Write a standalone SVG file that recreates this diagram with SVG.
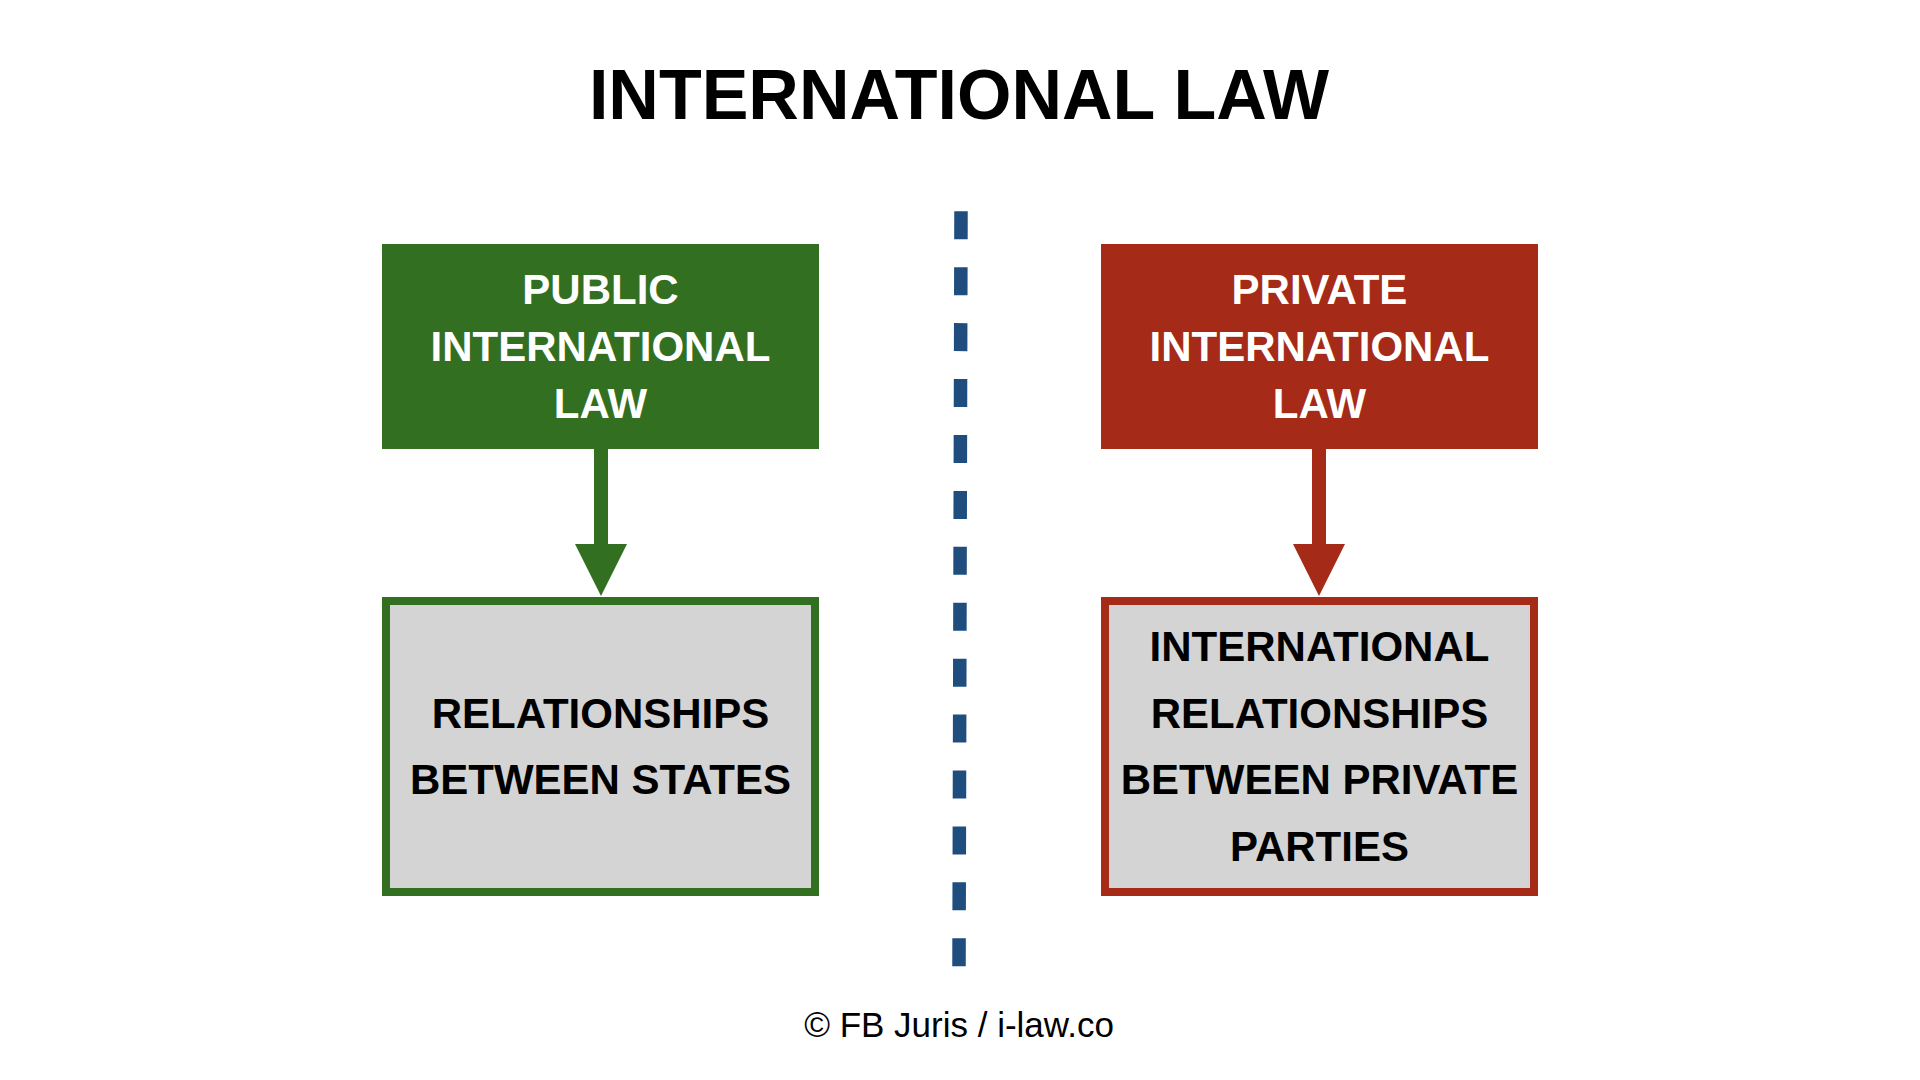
<svg xmlns="http://www.w3.org/2000/svg" width="1920" height="1080" viewBox="0 0 1920 1080">
<style>
text{font-family:"Liberation Sans",Arial,sans-serif;text-anchor:middle}
.title{font-size:70px;font-weight:bold;fill:#000}
.head{font-size:42px;font-weight:bold;fill:#fff}
.body{font-size:42px;font-weight:bold;fill:#000}
.foot{font-size:35px;fill:#000}
.green{fill:#326F20}
.red{fill:#A52A17}
.gbox{fill:#D4D4D4;stroke:#326F20;stroke-width:8}
.rbox{fill:#D4D4D4;stroke:#A52A17;stroke-width:8}
</style>
<rect width="1920" height="1080" fill="#fff"/>
<text class="title" x="959" y="119">INTERNATIONAL LAW</text>
<g id="divider">
<line x1="961" y1="211.3" x2="959" y2="966.3" stroke="#1F4E7E" stroke-width="13.5" stroke-dasharray="28 27.92"/>
</g>
<g id="public-law">
<rect class="green" x="382" y="244" width="437" height="205"/>
<text class="head" x="600.5" y="304">PUBLIC</text>
<text class="head" x="600.5" y="361">INTERNATIONAL</text>
<text class="head" x="600.5" y="418">LAW</text>
</g>
<g id="private-law">
<rect class="red" x="1101" y="244" width="437" height="205"/>
<text class="head" x="1319.5" y="304">PRIVATE</text>
<text class="head" x="1319.5" y="361">INTERNATIONAL</text>
<text class="head" x="1319.5" y="418">LAW</text>
</g>
<g id="states">
<rect class="gbox" x="386" y="601" width="429" height="291"/>
<text class="body" x="600.5" y="727.5">RELATIONSHIPS</text>
<text class="body" x="600.5" y="794">BETWEEN STATES</text>
</g>
<g id="private-parties">
<rect class="rbox" x="1105" y="601" width="429" height="291"/>
<text class="body" x="1319.5" y="661">INTERNATIONAL</text>
<text class="body" x="1319.5" y="727.5">RELATIONSHIPS</text>
<text class="body" x="1319.5" y="794">BETWEEN PRIVATE</text>
<text class="body" x="1319.5" y="860.5">PARTIES</text>
</g>
<g id="connectors">
<rect class="green" x="594" y="448" width="14" height="97"/>
<polygon class="green" points="575,544 627,544 601,596"/>
<rect class="red" x="1312" y="448" width="14" height="97"/>
<polygon class="red" points="1293,544 1345,544 1319,596"/>
</g>
<text class="foot" x="959" y="1037">© FB Juris / i-law.co</text>
</svg>
